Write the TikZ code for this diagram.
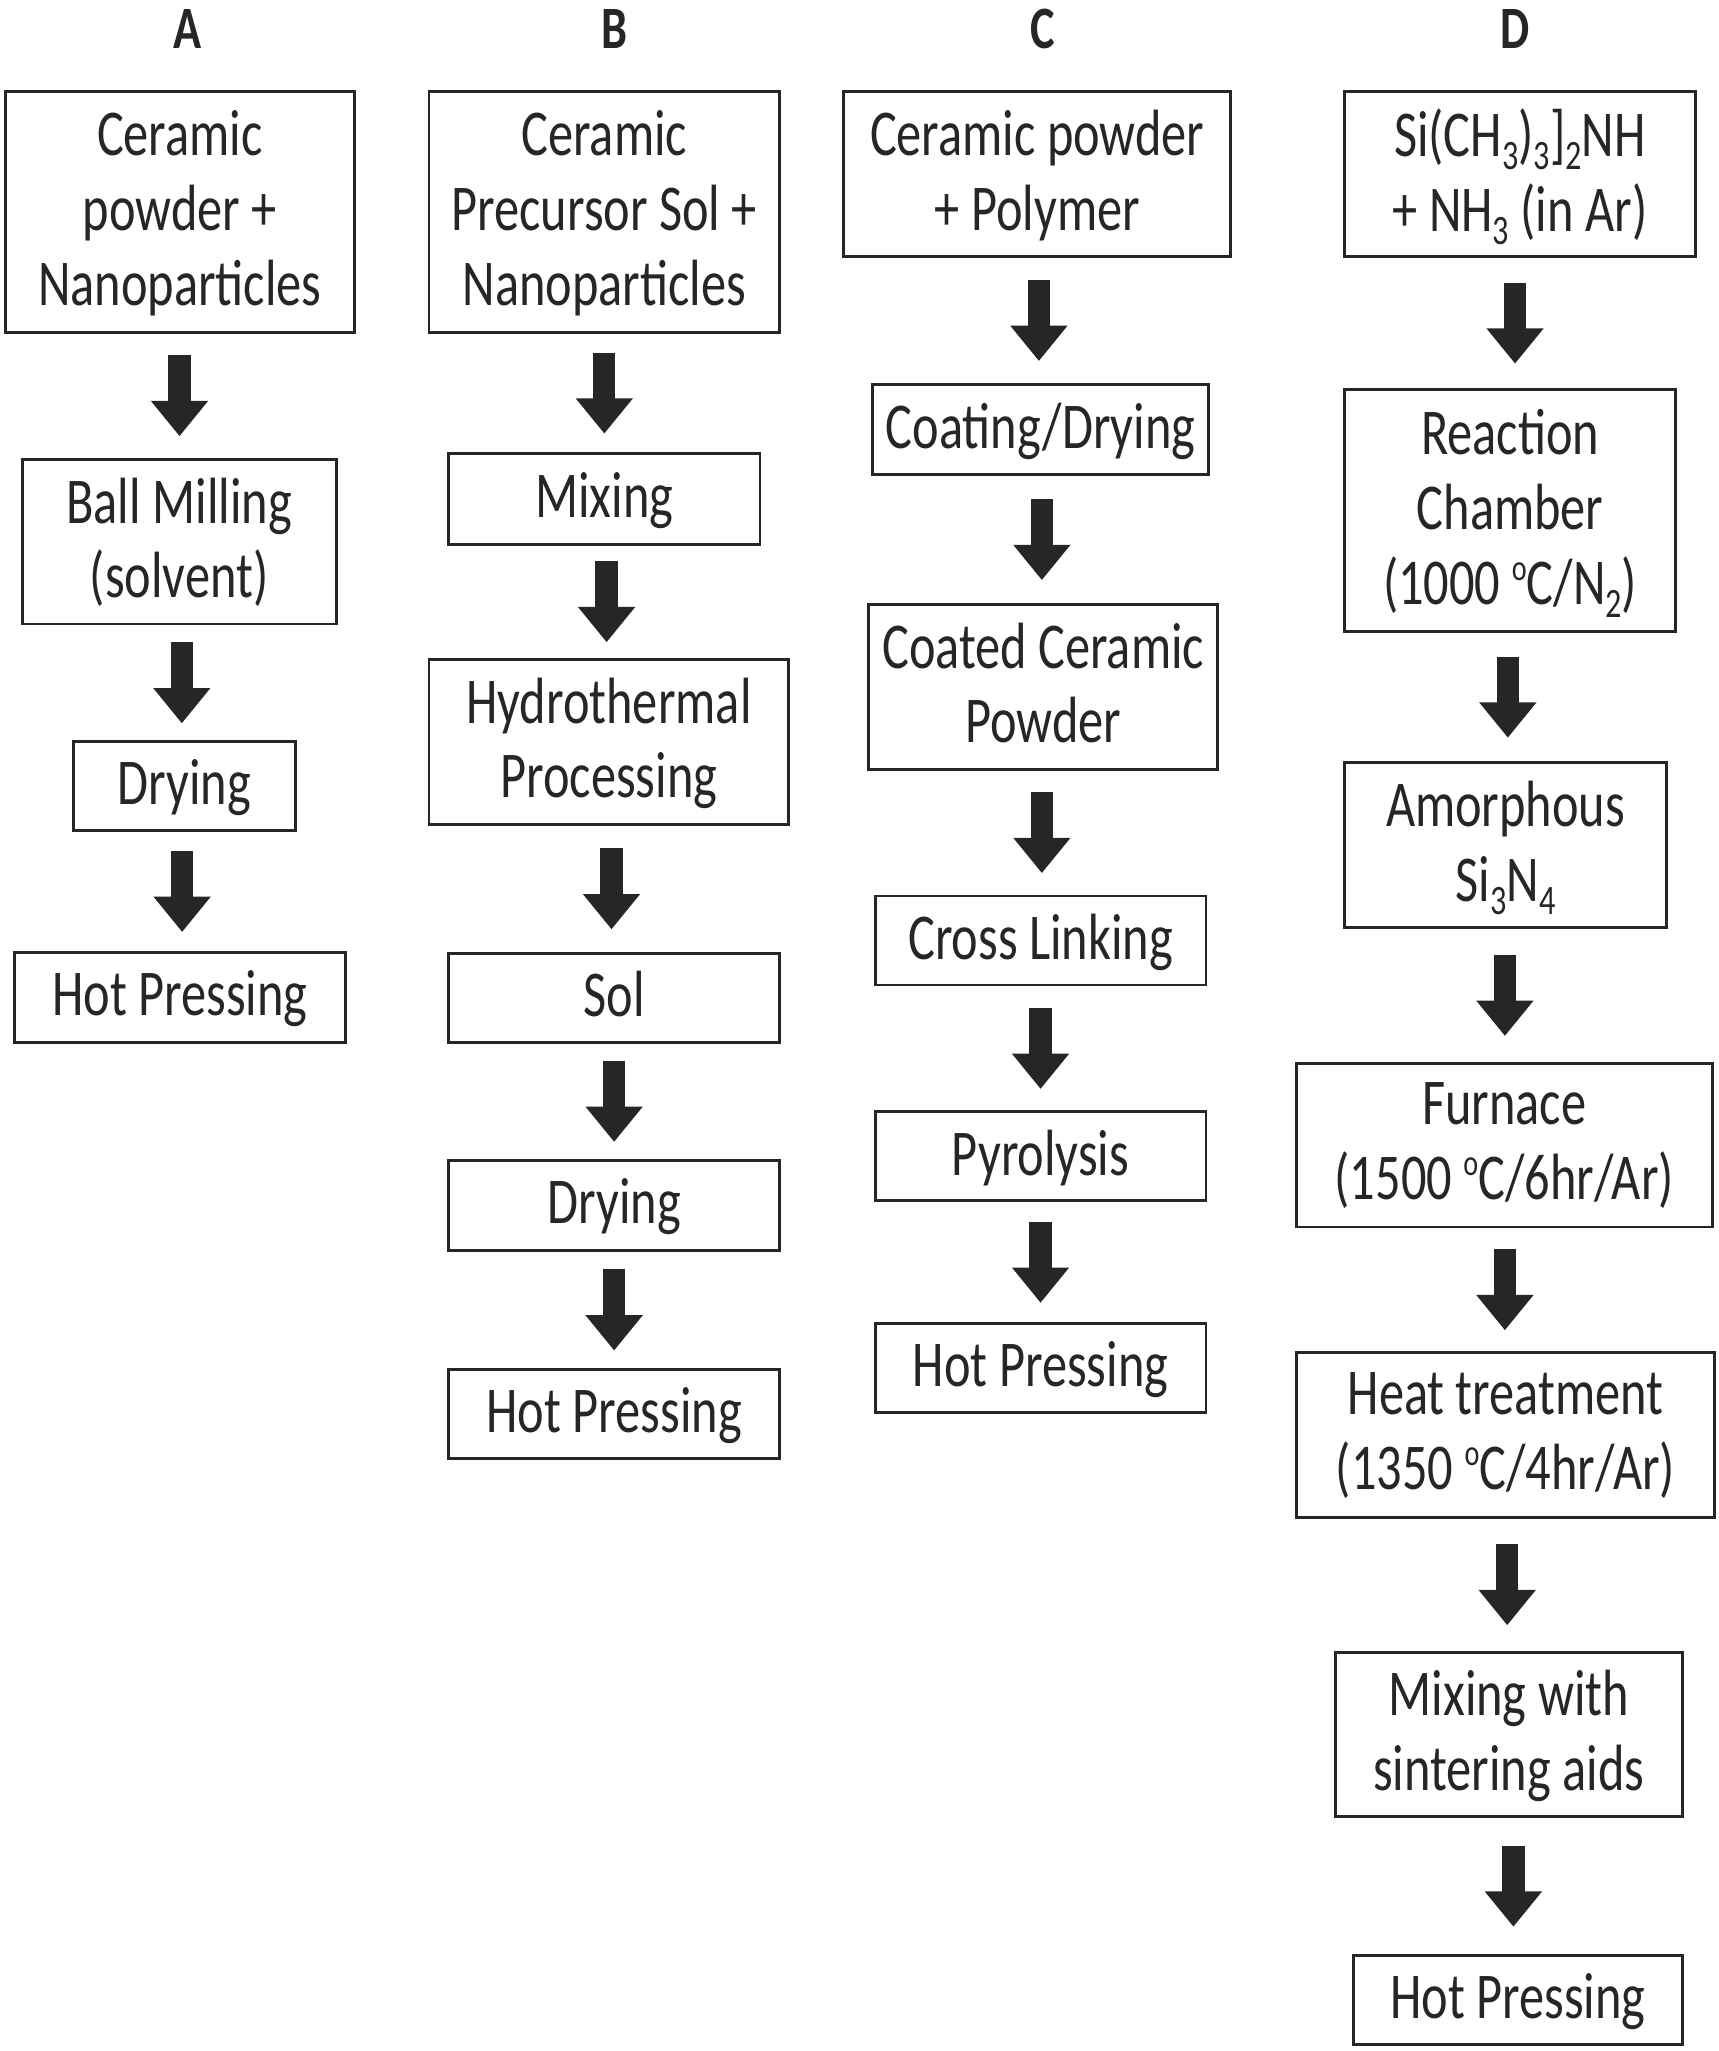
\documentclass[tikz,border=0pt]{standalone}
\usepackage{fontspec}
\setmainfont{Carlito}[FakeStretch=0.77]
\usetikzlibrary{arrows.meta,calc}
\newcommand\lowidx[1]{\raisebox{-0.2em}{\fontsize{32}{32}\selectfont #1}}
\newcommand\degsym{\raisebox{0.36em}{\fontsize{28}{28}\selectfont o}}
\definecolor{ink}{HTML}{262626}
\begin{document}
\begin{tikzpicture}[x=1pt,y=-1pt,
  box/.style={draw=ink, line width=2.2pt, inner sep=0pt, align=center,
    font=\fontsize{50}{57}\selectfont, text=ink, text depth=6pt},
  ttl/.style={font=\fontsize{46}{46}\selectfont\bfseries, text=ink, inner sep=0pt},
  blockarrow/.style={draw=ink, line width=17pt, -{Triangle[width=42pt,length=27pt]}}]
\newcommand\flow[2]{\draw[blockarrow] ($(#1.south)!0.5!(#2.north)+(0,-31)$) -- ($(#1.south)!0.5!(#2.north)+(0,31)$);}
\useasboundingbox (0,0) rectangle (1314,1568);
% titles
\node[ttl] (tA) at (143,22) {A};
\node[ttl] (tB) at (470,22) {B};
\node[ttl] (tC) at (797,22) {C};
\node[ttl] (tD) at (1158,22) {D};
% column A
\node[box, minimum width=267pt, minimum height=184pt] (A1) at (137.5,162) {Ceramic\\powder +\\Nanoparticles};
\node[box, minimum width=240pt, minimum height=126pt] (A2) at (137,414) {Ball Milling\\(solvent)};
\node[box, minimum width=170pt, minimum height=68pt] (A3) at (141,601) {Drying};
\node[box, minimum width=253pt, minimum height=69pt] (A4) at (137.5,762.5) {Hot Pressing};
% column B
\node[box, minimum width=268pt, minimum height=184pt] (B1) at (462,162) {Ceramic\\Precursor Sol +\\Nanoparticles};
\node[box, minimum width=238pt, minimum height=69pt] (B2) at (462,381.5) {Mixing};
\node[box, minimum width=275pt, minimum height=126pt] (B3) at (465.5,567) {Hydrothermal\\Processing};
\node[box, minimum width=253pt, minimum height=68pt] (B4) at (469.5,763) {Sol};
\node[box, minimum width=253pt, minimum height=69pt] (B5) at (469.5,921.5) {Drying};
\node[box, minimum width=253pt, minimum height=68pt] (B6) at (469.5,1081) {Hot Pressing};
% column C
\node[box, minimum width=296pt, minimum height=126pt] (C1) at (793,133) {Ceramic powder\\+ Polymer};
\node[box, minimum width=257pt, minimum height=69pt] (C2) at (795.5,328.5) {Coating/Drying};
\node[box, minimum width=267pt, minimum height=126pt] (C3) at (797.5,525) {Coated Ceramic\\Powder};
\node[box, minimum width=253pt, minimum height=68pt] (C4) at (795.5,719) {Cross Linking};
\node[box, minimum width=253pt, minimum height=68pt] (C5) at (795.5,884) {Pyrolysis};
\node[box, minimum width=253pt, minimum height=68pt] (C6) at (795.5,1046) {Hot Pressing};
% column D
\node[box, minimum width=268pt, minimum height=126pt] (D1) at (1162,133) {Si(CH\lowidx{3})\lowidx{3}]\lowidx{2}NH\\+ NH\lowidx{3} (in Ar)};
\node[box, minimum width=253pt, minimum height=185pt] (D2) at (1154.5,390.5) {Reaction\\Chamber\\(1000 \degsym C/N\lowidx{2})};
\node[box, minimum width=246pt, minimum height=126pt] (D3) at (1151,646) {Amorphous\\Si\lowidx{3}N\lowidx{4}};
\node[box, minimum width=318pt, minimum height=125pt] (D4) at (1150,875.5) {Furnace\\(1500 \degsym C/6hr/Ar)};
\node[box, minimum width=320pt, minimum height=126pt] (D5) at (1151,1097) {Heat treatment\\(1350 \degsym C/4hr/Ar)};
\node[box, minimum width=265pt, minimum height=126pt] (D6) at (1153.5,1326) {Mixing with\\sintering aids};
\node[box, minimum width=251pt, minimum height=68pt] (D7) at (1160.5,1529) {Hot Pressing};
% arrows
\flow{A1}{A2}\flow{A2}{A3}\flow{A3}{A4}
\flow{B1}{B2}\flow{B2}{B3}\flow{B3}{B4}\flow{B4}{B5}\flow{B5}{B6}
\flow{C1}{C2}\flow{C2}{C3}\flow{C3}{C4}\flow{C4}{C5}\flow{C5}{C6}
\flow{D1}{D2}\flow{D2}{D3}\flow{D3}{D4}\flow{D4}{D5}\flow{D5}{D6}\flow{D6}{D7}
\end{tikzpicture}
\end{document}
